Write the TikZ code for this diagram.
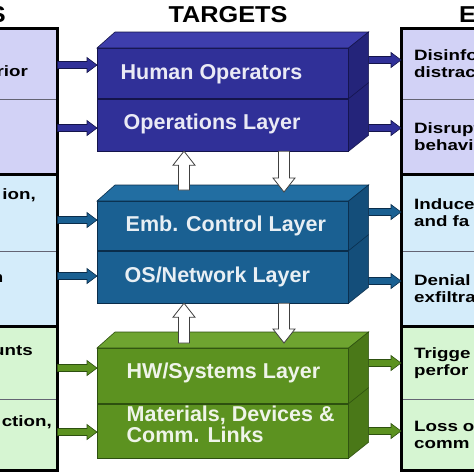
\documentclass[tikz,border=0pt]{standalone}
\usepackage{fontspec}
\setmainfont{Liberation Sans}
\newfontfamily\cellfont[FakeStretch=1.25]{Liberation Sans}
\newfontfamily\headfont[FakeStretch=1.1]{Liberation Sans}
\usetikzlibrary{calc}

\definecolor{lilac}{RGB}{210,210,246}
\definecolor{skyc}{RGB}{212,236,250}
\definecolor{mintc}{RGB}{214,245,210}
\definecolor{cellline}{RGB}{100,100,115}
\definecolor{purpfront}{RGB}{48,48,152}
\definecolor{purptop}{RGB}{62,62,172}
\definecolor{purpside}{RGB}{36,36,122}
\definecolor{purpline}{RGB}{20,20,75}
\definecolor{bluefront}{RGB}{26,96,146}
\definecolor{bluetop}{RGB}{34,110,162}
\definecolor{blueside}{RGB}{20,78,122}
\definecolor{blueline}{RGB}{10,45,75}
\definecolor{grnfront}{RGB}{92,146,32}
\definecolor{grntop}{RGB}{110,164,48}
\definecolor{grnside}{RGB}{74,120,24}
\definecolor{grnline}{RGB}{45,80,15}

% fat arrow: style, from, to, half shaft, half head, head length
\newcommand{\fatarrow}[6]{%
  \filldraw[#1] let \p1=#2, \p2=#3, \n1={atan2(\y2-\y1,\x2-\x1)}, \n2={veclen(\x2-\x1,\y2-\y1)} in
    [shift={(\p1)}, rotate=\n1] (0pt,-#4) -- (\n2-#6,-#4) -- (\n2-#6,-#5) -- (\n2,0pt)
    -- (\n2-#6,#5) -- (\n2-#6,#4) -- (0pt,#4) -- cycle;}

% top and side faces of a block
\newcommand{\cubefaces}[5]{%
  \filldraw[fill=#3, draw=#5, line width=0.6pt] (#1.north west) -- ++(18,-16)
    -- ([shift={(20,-16)}]#1.north east) -- (#1.north east) -- cycle;
  \filldraw[fill=#4, draw=#5, line width=0.6pt] (#1.north east) -- ++(20,-16)
    -- ([shift={(20,-16)}]#2.south east) -- (#2.south east) -- cycle;
  \draw[#5, line width=0.6pt] (#1.south east) -- ++(20,-16);}

\begin{document}
\begin{tikzpicture}[x=1pt,y=-1pt]
\tikzset{cell/.style = {draw=cellline, fill=#1, minimum width=160pt, inner sep=0pt, anchor=north west}}
\tikzset{ctext/.style = {text width=134pt, align=left, font=\cellfont\fontsize{15}{17}\selectfont\bfseries}}
\tikzset{frag/.style = {anchor=base east, inner sep=0pt, font=\cellfont\fontsize{15}{17}\selectfont\bfseries}}
\tikzset{slab/.style = {fill=#1front, draw=#1line, line width=0.6pt, minimum width=251pt, inner sep=0pt, anchor=north west}}
\tikzset{ltext/.style = {anchor=base west, inner sep=0pt, align=left, text=white!90!#1front, font=\fontsize{21.5}{21}\selectfont\bfseries}}
\tikzset{heading/.style = {inner sep=0pt, font=\headfont\fontsize{23}{26}\selectfont\bfseries}}
\tikzset{sidearrow/.style = {fill=#1front, draw=#1line, line width=0.6pt}}
\tikzset{hollow/.style = {fill=white, draw=black!75, line width=0.8pt}}

\useasboundingbox (0,0) rectangle (474,474);
\clip (0,0) rectangle (474,474);

% headings
\node[heading, anchor=base east] (srcs) at (6,22.5) {S};
\node[heading, anchor=base] (tgts) at (228,22.5) {TARGETS};
\node[heading, anchor=base west] (effs) at (459,22.5) {E};

% left column
\node[cell=lilac, minimum height=71pt] (l1) at (-103,28) {};
\node[cell=lilac, minimum height=75pt] (l2) at (l1.south west) {};
\node[cell=skyc, minimum height=76pt] (l3) at (l2.south west) {};
\node[cell=skyc, minimum height=75pt] (l4) at (l3.south west) {};
\node[cell=mintc, minimum height=72pt] (l5) at (l4.south west) {};
\node[cell=mintc, minimum height=71pt] (l6) at (l5.south west) {};
\draw[line width=3pt] (l1.north west) rectangle (l2.south east);
\draw[line width=3pt] (l3.north west) rectangle (l4.south east);
\draw[line width=3pt] (l5.north west) rectangle (l6.south east);
\node[frag] (f1) at (28,76) {rior};
\node[frag] (f3) at (36,199) {ion,};
\node[frag] (f4) at (3.5,282) {n};
\node[frag] (f5) at (33,355) {unts};
\node[frag] (f6) at (52,426) {ction,};

% right column
\node[cell=lilac, minimum height=71pt, ctext] (r1) at (401,28) {Disinfo\\distrac};
\node[cell=lilac, minimum height=75pt, ctext] (r2) at (r1.south west) {Disrupt\\behavi};
\node[cell=skyc, minimum height=76pt, ctext] (r3) at (r2.south west) {Induce\\and fa};
\node[cell=skyc, minimum height=75pt, ctext] (r4) at (r3.south west) {Denial\\exfiltra};
\node[cell=mintc, minimum height=72pt, ctext] (r5) at (r4.south west) {Trigge\\perfor};
\node[cell=mintc, minimum height=71pt, ctext] (r6) at (r5.south west) {Loss o\\comm};
\draw[line width=3pt] (r1.north west) rectangle (r2.south east);
\draw[line width=3pt] (r3.north west) rectangle (r4.south east);
\draw[line width=3pt] (r5.north west) rectangle (r6.south east);

% blocks
\node[slab=purp, minimum height=50pt] (human) at (97,48) {};
\node[slab=purp, minimum height=52pt] (ops) at (human.south west) {};
\cubefaces{human}{ops}{purptop}{purpside}{purpline}
\node[slab=blue, minimum height=49pt] (emb) at (97,201) {};
\node[slab=blue, minimum height=52pt] (os) at (emb.south west) {};
\cubefaces{emb}{os}{bluetop}{blueside}{blueline}
\node[slab=grn, minimum height=55pt] (hw) at (97,348) {};
\node[slab=grn, minimum height=54pt] (mat) at (hw.south west) {};
\cubefaces{hw}{mat}{grntop}{grnside}{grnline}

\node[ltext=purp] (humant) at (120.5,79.7) {Human Operators};
\node[ltext=purp] (opst) at (123.5,129.7) {Operations Layer};
\node[ltext=blue] (embt) at (125.5,231.7) {Emb. Control Layer};
\node[ltext=blue] (ost) at (124.5,282.7) {OS/Network Layer};
\node[ltext=grn] (hwt) at (126.5,378.7) {HW/Systems Layer};
\node[ltext=grn, anchor=west] (matt) at (126.5,424.6) {Materials, Devices \&\\Comm. Links};

% arrows in
\fatarrow{sidearrow=purp}{(l1.east |- 0,65)}{(human.west |- 0,65)}{3.5pt}{7.5pt}{10pt}
\fatarrow{sidearrow=purp}{(l2.east |- 0,128)}{(ops.west |- 0,128)}{3.5pt}{7.5pt}{10pt}
\fatarrow{sidearrow=blue}{(l3.east |- 0,220)}{(emb.west |- 0,220)}{3.5pt}{7.5pt}{10pt}
\fatarrow{sidearrow=blue}{(l4.east |- 0,276)}{(os.west |- 0,276)}{3.5pt}{7.5pt}{10pt}
\fatarrow{sidearrow=grn}{(l5.east |- 0,368)}{(hw.west |- 0,368)}{3.5pt}{7.5pt}{10pt}
\fatarrow{sidearrow=grn}{(l6.east |- 0,432)}{(mat.west |- 0,432)}{3.5pt}{7.5pt}{10pt}
% arrows out
\fatarrow{sidearrow=purp}{([xshift=20pt]human.east |- 0,60)}{(r1.west |- 0,60)}{3.5pt}{7.5pt}{10pt}
\fatarrow{sidearrow=purp}{([xshift=20pt]ops.east |- 0,128)}{(r2.west |- 0,128)}{3.5pt}{7.5pt}{10pt}
\fatarrow{sidearrow=blue}{([xshift=20pt]emb.east |- 0,212)}{(r3.west |- 0,212)}{3.5pt}{7.5pt}{10pt}
\fatarrow{sidearrow=blue}{([xshift=20pt]os.east |- 0,281)}{(r4.west |- 0,281)}{3.5pt}{7.5pt}{10pt}
\fatarrow{sidearrow=grn}{([xshift=20pt]hw.east |- 0,363)}{(r5.west |- 0,363)}{3.5pt}{7.5pt}{10pt}
\fatarrow{sidearrow=grn}{([xshift=20pt]mat.east |- 0,431)}{(r6.west |- 0,431)}{3.5pt}{7.5pt}{10pt}

% up and down between blocks
\fatarrow{hollow}{([xshift=87pt,yshift=11pt]emb.north west)}{([xshift=87pt]ops.south west)}{5.5pt}{11pt}{14pt}
\fatarrow{hollow}{([xshift=187pt]ops.south west)}{([xshift=187pt,yshift=9pt]emb.north west)}{5.5pt}{11pt}{14pt}
\fatarrow{hollow}{([xshift=87pt,yshift=5pt]hw.north west)}{([xshift=87pt]os.south west)}{5.5pt}{11pt}{14pt}
\fatarrow{hollow}{([xshift=187pt]os.south west)}{([xshift=187pt,yshift=5pt]hw.north west)}{5.5pt}{11pt}{14pt}
\end{tikzpicture}
\end{document}
